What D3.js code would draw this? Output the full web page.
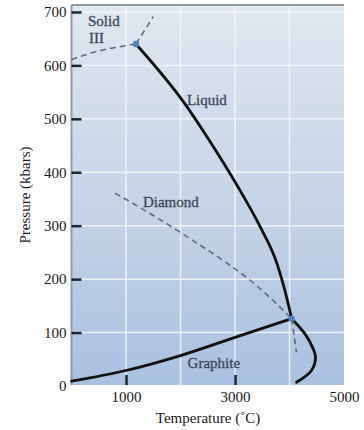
<!DOCTYPE html>
<html>
<head>
<meta charset="utf-8">
<script src="https://cdn.jsdelivr.net/npm/d3@7"></script>
<style>
  body { margin: 0; background: #fff; }
  svg { display: block; font-family: "Liberation Serif", "DejaVu Serif", serif; }
</style>
</head>
<body>
<svg id="chart" width="364" height="430"></svg>
<script>
// phase boundaries of carbon, [temperature (C), pressure (kbar)]
var liquidDiamond = [[1182, 640], [2081, 528], [2539, 458], [3034, 376], [3456, 299], [3767, 230], [3950, 165], [4040, 126]];
var graphiteDiamond = [[0, 9], [1000, 29], [2000, 57], [3000, 91], [4040, 126]];
var graphiteLiquid = [[4040, 126], [4281, 98], [4433, 70], [4477, 54], [4403, 29], [4128, 7]];
var solid3Diamond = [[0, 611], [500, 627], [1000, 637], [1182, 640]];
var solid3Liquid = [[1182, 640], [1500, 691]];
var diamondMetaHigh = [[797, 361], [1989, 288], [3639, 166], [4040, 126]];
var diamondMetaLow = [[4040, 126], [4097, 85], [4128, 63]];
var triplePoints = [[1182, 640], [4040, 126]];

var xTicks = [1000, 3000, 5000];
var xGrid = [1000, 2000, 3000, 4000];
var yTicks = [0, 100, 200, 300, 400, 500, 600, 700];

var regionLabels = [
  {text: 'Solid', t: 302, p: 674},
  {text: 'III', t: 320, p: 642},
  {text: 'Liquid', t: 2117, p: 526},
  {text: 'Diamond', t: 1311, p: 335},
  {text: 'Graphite', t: 2130, p: 33}
];

var margin = {top: 5, right: 20, bottom: 45, left: 71.5}
    ,width  = 364 - margin.left - margin.right
    ,height = 430 - margin.top - margin.bottom;

var svg = d3.select('#chart');

var x = d3.scaleLinear().domain([0, 5000]).range([0, width]);
var y = d3.scaleLinear().domain([0, 713]).range([height + 1, 0]);

var defs = svg.append('defs');
var grad = defs.append('linearGradient')
  .attr('id', 'bg').attr('x1', 0).attr('y1', 0).attr('x2', 0).attr('y2', 1);
grad.append('stop').attr('offset', '0%').attr('stop-color', '#e0e7ef');
grad.append('stop').attr('offset', '50%').attr('stop-color', '#c7d5e8');
grad.append('stop').attr('offset', '100%').attr('stop-color', '#a9c1e1');

var g = svg.append('g')
  .attr('transform', 'translate(' + margin.left + ',' + margin.top + ')');

g.append('rect')
  .attr('width', width).attr('height', height)
  .attr('fill', 'url(#bg)');

// grid
g.selectAll('.hgrid').data(yTicks.filter(function(d) { return d > 0; }))
  .enter().append('line')
  .attr('x1', 0).attr('x2', width)
  .attr('y1', function(d) { return y(d); }).attr('y2', function(d) { return y(d); })
  .attr('stroke', '#f4f7fb').attr('stroke-opacity', 0.85).attr('stroke-width', 1.5);

g.selectAll('.vgrid').data(xGrid)
  .enter().append('line')
  .attr('y1', 0).attr('y2', height)
  .attr('x1', function(d) { return x(d); }).attr('x2', function(d) { return x(d); })
  .attr('stroke', '#f4f7fb').attr('stroke-opacity', 0.85).attr('stroke-width', 1.5);

// frame edges
g.append('line').attr('x1', 0).attr('x2', width).attr('y1', 0).attr('y2', 0)
  .attr('stroke', '#8e969f').attr('stroke-width', 2);
g.append('line').attr('x1', 0).attr('x2', 0).attr('y1', 0).attr('y2', height)
  .attr('stroke', '#8b9cb4').attr('stroke-width', 2);

// axes
var yAxis = g.append('g')
  .call(d3.axisLeft(y).tickValues(yTicks).tickSize(-10).tickPadding(5));
var xAxis = g.append('g')
  .attr('transform', 'translate(0,' + height + ')')
  .call(d3.axisBottom(x).tickValues(xTicks).tickFormat(d3.format('d')).tickSize(-10).tickPadding(6));

[yAxis, xAxis].forEach(function(ax) {
  ax.select('.domain').remove();
  ax.selectAll('.tick line').attr('stroke', '#1c2530').attr('stroke-width', 2.5);
  ax.selectAll('.tick text')
    .attr('fill', '#1a1a1a')
    .style('font-size', '15px')
    .style('font-family', '"Liberation Serif", serif');
});
yAxis.selectAll('.tick').filter(function(d) { return d === 0; }).select('line').remove();
xAxis.selectAll('.tick').filter(function(d) { return d === 5000; }).select('line').remove();

// boundaries
var smooth = d3.line()
  .x(function(d) { return x(d[0]); })
  .y(function(d) { return y(d[1]); })
  .curve(d3.curveMonotoneX);
var bend = d3.line()
  .x(function(d) { return x(d[0]); })
  .y(function(d) { return y(d[1]); })
  .curve(d3.curveCatmullRom);

[solid3Diamond, solid3Liquid, diamondMetaHigh, diamondMetaLow].forEach(function(data) {
  g.append('path')
    .datum(data)
    .attr('d', smooth)
    .attr('fill', 'none')
    .attr('stroke', '#5b6b80')
    .attr('stroke-width', 1.6)
    .attr('stroke-dasharray', '6,4');
});

[liquidDiamond, graphiteDiamond].forEach(function(data) {
  g.append('path')
    .datum(data)
    .attr('d', smooth)
    .attr('fill', 'none')
    .attr('stroke', '#111')
    .attr('stroke-width', 2.8)
    .attr('stroke-linecap', 'round');
});

g.append('path')
  .datum(graphiteLiquid)
  .attr('d', bend)
  .attr('fill', 'none')
  .attr('stroke', '#111')
  .attr('stroke-width', 2.8)
  .attr('stroke-linecap', 'round');

g.selectAll('.tp').data(triplePoints)
  .enter().append('circle')
  .attr('cx', function(d) { return x(d[0]); })
  .attr('cy', function(d) { return y(d[1]); })
  .attr('r', 3.2)
  .attr('fill', '#4f7fbd');

// region names
g.selectAll('.region').data(regionLabels)
  .enter().append('text')
  .attr('x', function(d) { return x(d.t); })
  .attr('y', function(d) { return y(d.p); })
  .attr('fill', '#3b475a')
  .attr('stroke', '#3b475a')
  .attr('stroke-width', 0.3)
  .style('font-size', '15px')
  .text(function(d) { return d.text; });

// axis titles
svg.append('text')
  .attr('transform', 'translate(30,' + (margin.top + height / 2) + ') rotate(-90)')
  .attr('text-anchor', 'middle')
  .attr('fill', '#1a1a1a')
  .style('font-size', '15px')
  .text('Pressure (kbars)');

svg.append('text')
  .attr('x', 208)
  .attr('y', 423)
  .attr('text-anchor', 'middle')
  .attr('fill', '#1a1a1a')
  .style('font-size', '15px')
  .text('Temperature (\u02DAC)');
</script>
</body>
</html>
